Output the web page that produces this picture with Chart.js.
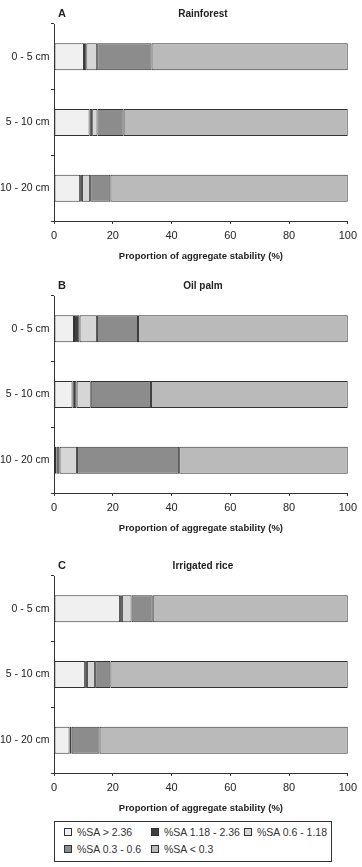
<!DOCTYPE html>
<html>
<head>
<meta charset="utf-8">
<script src="https://cdn.jsdelivr.net/npm/chart.js@4/dist/chart.umd.min.js"></script>
<style>
  body { margin: 0; background: #fff; width: 362px; height: 867px; position: relative; overflow: hidden;
         font-family: 'Liberation Sans', Arial, sans-serif; }
  .panel { position: absolute; left: 0; width: 362px; height: 265px; }
  #legend { position: absolute; left: 54px; top: 821px; width: 276px; height: 39px;
            border: 1px solid #333; box-sizing: content-box; font-size: 10.5px; color: #333; }
  .item { position: absolute; display: flex; align-items: center; white-space: nowrap; height: 14px; }
  .swatch { width: 6px; height: 6px; border: 1px solid #333; margin-right: 5px; }
</style>
</head>
<body>
<div class="panel" style="top:0"><canvas id="chartA" width="362" height="265"></canvas></div>
<div class="panel" style="top:272px"><canvas id="chartB" width="362" height="265"></canvas></div>
<div class="panel" style="top:552px"><canvas id="chartC" width="362" height="265"></canvas></div>
<div id="legend"></div>

<script>
const FONT = "'Liberation Sans', Arial, sans-serif";

const depths = ["0 - 5 cm", "5 - 10 cm", "10 - 20 cm"];
const classLabels = ["%SA > 2.36", "%SA 1.18 - 2.36", "%SA 0.6 - 1.18", "%SA 0.3 - 0.6", "%SA < 0.3"];
const classColors = ["#f0f0f0", "#404040", "#d6d6d6", "#8c8c8c", "#bababa"];
const xTicks = [0, 20, 40, 60, 80, 100];

// A - Rainforest
const rainforestSA236 = [10.2, 12.1, 8.9];
const rainforestSA118 = [0.8, 0.9, 0.6];
const rainforestSA06 = [3.7, 1.8, 2.8];
const rainforestSA03 = [18.5, 8.9, 6.9];
const rainforestSAlt03 = [66.8, 76.3, 80.8];

// B - Oil palm
const oilPalmSA236 = [6.8, 6.3, 0.8];
const oilPalmSA118 = [1.9, 1.4, 1.1];
const oilPalmSA06 = [5.9, 4.8, 5.9];
const oilPalmSA03 = [14.0, 20.5, 34.8];
const oilPalmSAlt03 = [71.4, 67.0, 57.4];

// C - Irrigated rice
const riceSA236 = [22.5, 10.6, 5.3];
const riceSA118 = [0.6, 0.6, 0.7];
const riceSA06 = [3.3, 2.8, 0.0];
const riceSA03 = [7.2, 5.2, 9.5];
const riceSAlt03 = [66.4, 80.8, 84.5];

// draws the panel letter and the centered title above the plot
const panelTitle = {
  id: "panelTitle",
  afterDraw(chart, args, opts) {
    const { ctx, chartArea } = chart;
    ctx.save();
    ctx.fillStyle = "#222";
    ctx.textBaseline = "middle";
    ctx.font = "bold 11px " + FONT;
    ctx.textAlign = "left";
    ctx.fillText(opts.letter, chartArea.left + 4, 14);
    ctx.font = "bold 10px " + FONT;
    ctx.textAlign = "center";
    ctx.fillText(opts.title, (chartArea.left + chartArea.right) / 2 + 2, 14);
    ctx.restore();
  },
};

function drawPanel(id, letter, title, series) {
  const ctx = document.getElementById(id).getContext("2d");
  new Chart(ctx, {
    type: "bar",
    data: {
      labels: depths,
      datasets: series.map((values, i) => ({
        label: classLabels[i],
        data: values,
        backgroundColor: classColors[i],
        borderColor: "#333",
        borderWidth: 1,
        borderSkipped: false,
        barPercentage: 0.41,
        categoryPercentage: 1,
      })),
    },
    options: {
      indexAxis: "y",
      responsive: false,
      animation: false,
      layout: { padding: { top: 24, right: 13, left: 0, bottom: 0 } },
      scales: {
        x: {
          stacked: true,
          min: 0,
          max: 100,
          afterBuildTicks: (axis) => { axis.ticks = xTicks.map((v) => ({ value: v })); },
          afterFit: (axis) => { axis.height = 44; },
          grid: { drawOnChartArea: false, tickLength: 3, color: "#333" },
          border: { color: "#333" },
          ticks: { color: "#222", padding: 5, font: { family: FONT, size: 11 } },
          title: {
            display: true,
            text: "Proportion of aggregate stability (%)",
            color: "#222",
            padding: { top: 0, bottom: 3 },
            font: { family: FONT, size: 9.5, weight: "bold" },
          },
        },
        y: {
          stacked: true,
          afterFit: (axis) => { axis.width = 54; },
          grid: { drawOnChartArea: false, offset: true, tickLength: 3, color: "#333" },
          border: { color: "#333" },
          ticks: { color: "#222", padding: 1.5, font: { family: FONT, size: 10.5 } },
        },
      },
      plugins: {
        legend: { display: false },
        tooltip: { enabled: false },
        panelTitle: { letter: letter, title: title },
      },
    },
    plugins: [panelTitle],
  });
}

drawPanel("chartA", "A", "Rainforest",
  [rainforestSA236, rainforestSA118, rainforestSA06, rainforestSA03, rainforestSAlt03]);
drawPanel("chartB", "B", "Oil palm",
  [oilPalmSA236, oilPalmSA118, oilPalmSA06, oilPalmSA03, oilPalmSAlt03]);
drawPanel("chartC", "C", "Irrigated rice",
  [riceSA236, riceSA118, riceSA06, riceSA03, riceSAlt03]);

// shared legend box under the last panel
const legendCols = [9, 96, 189];
const legendRows = [3, 20];
const legend = document.getElementById("legend");
classLabels.forEach((label, i) => {
  const item = document.createElement("div");
  item.className = "item";
  item.style.left = legendCols[i % 3] + "px";
  item.style.top = legendRows[Math.floor(i / 3)] + "px";
  item.innerHTML = `<span class="swatch" style="background:${classColors[i]}"></span><span></span>`;
  item.lastChild.textContent = label;
  legend.appendChild(item);
});
</script>
</body>
</html>
